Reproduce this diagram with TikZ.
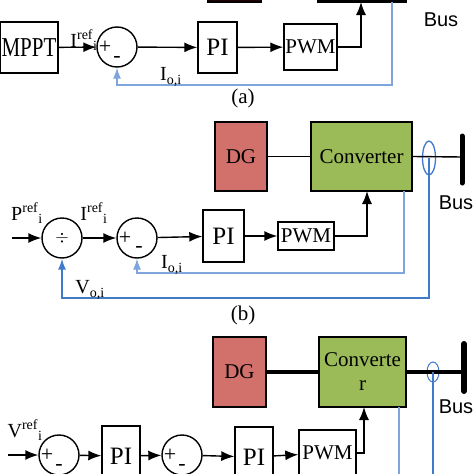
\documentclass[tikz,border=0pt]{standalone}
\usepackage{amsmath}
\usepackage{graphicx}
\usepackage{fontspec}
\setmainfont{Liberation Serif}
\newfontfamily\busfont{Liberation Sans}
\usepackage{tikz}
\usetikzlibrary{positioning, arrows.meta, shapes.geometric, calc}
\definecolor{dgred}{HTML}{D2706B}
\definecolor{convgreen}{HTML}{9BBB59}
\definecolor{fblight}{HTML}{7EA6DC}
\definecolor{fbdark}{HTML}{3F7ACB}
\newcommand{\tallbox}[1]{\scalebox{1}[1.3]{#1}}

\tikzset{
  blk/.style={draw, line width=1.4pt, fill=white, inner sep=0pt, font=\fontsize{21}{24}\selectfont},
  piblk/.style={blk, font=\fontsize{25}{28}\selectfont},
  sumnode/.style={draw, circle, line width=1.4pt, minimum size=40pt, inner sep=0pt, fill=white},
  sig/.style={line width=1.4pt, -{Latex[length=13pt,width=10pt]}},
  wire/.style={line width=1.4pt},
  fbl/.style={draw=fblight, line width=1.3pt, -{Latex[length=11pt,width=8pt]}},
  fbd/.style={draw=fbdark, line width=1.5pt, -{Latex[length=11pt,width=8pt]}},
  lbl/.style={inner sep=0pt, font=\fontsize{20}{22}\selectfont},
  sgn/.style={inner sep=0pt, font=\fontsize{22}{24}\selectfont},
  busbar/.style={line width=5pt, line cap=round},
  buslbl/.style={inner sep=0pt, font=\busfont\fontsize{20}{22}\selectfont}
}

\begin{document}
\begin{tikzpicture}[x=1pt, y=-1pt]
  \useasboundingbox (0,0) rectangle (474,474);
  \clip (0,0) rectangle (474,474);

  % (a) MPPT current loop
  \node[blk, fill=black!85!red, minimum width=53, minimum height=64] (dga) at (234.5,-30) {};
  \node[blk, fill=black, minimum width=88, minimum height=64] (conva) at (362,-30) {};
  \node[blk, minimum width=58, minimum height=51] (mppt) at (29,47.5) {\tallbox{MPPT}};
  \node[sumnode] (suma) at (117,47) {};
  \node[piblk, minimum width=39, minimum height=51] (pia) at (217.5,47.5) {PI};
  \node[blk, minimum width=53, minimum height=46] (pwma) at (310.5,47) {PWM};
  \node[sgn] at ($(suma)+(-12,0)$) {+};
  \node[sgn] at ($(suma)+(0,12)$) {-};
  \coordinate (ina) at (361,2);
  \coordinate (taba) at (392,2);
  \draw[sig] (mppt) -- (suma);
  \draw[sig] (suma) -- (pia);
  \draw[sig] (pia) -- (pwma);
  \draw[sig] (pwma.east) -| (ina);
  \draw[fbl] (taba) -- (392,85) -| (suma.south);
  \node[lbl] at (84,40) {$\text{I}^{\text{ref}}{}_{\text{i}}$};
  \node[lbl] at (171,77) {$\text{I}_{\text{o,i}}$};
  \node[buslbl] at (441,20) {Bus};
  \node[blk, draw=none, fill=none] at (243,98) {(a)};

  % (b) power loop
  \node[blk, fill=dgred, minimum width=52, minimum height=69] (dgb) at (241,156.5) {DG};
  \node[blk, fill=convgreen, minimum width=101, minimum height=69] (convb) at (361.5,156.5) {Converter};
  \node[draw=fbdark, line width=1.3pt, ellipse, minimum width=13, minimum height=34, inner sep=0pt] (ctb) at (429,158) {};
  \coordinate (busb) at (462,157);
  \draw[wire] (dgb) -- (convb);
  \draw[wire] (convb.east) -- (busb);
  \draw[busbar] (462,136) -- (462,183);
  \node[sumnode, font=\fontsize{18}{20}\selectfont] (divb) at (62,238) {$\div$};
  \node[sumnode] (sumb) at (137,238) {};
  \node[piblk, minimum width=41, minimum height=52] (pib) at (223.5,236) {PI};
  \node[blk, minimum width=56, minimum height=28] (pwmb) at (306,236) {PWM};
  \node[sgn] at ($(sumb)+(-12,0)$) {+};
  \node[sgn] at ($(sumb)+(2,11)$) {-};
  \coordinate (inb) at (12,238);
  \coordinate (gateb) at (367,191);
  \draw[sig] (inb) -- (divb);
  \draw[sig] (divb) -- (sumb);
  \draw[sig] (sumb) -- (pib);
  \draw[sig] (pib) -- (pwmb);
  \draw[sig] (pwmb.east) -| (gateb);
  \draw[fbl] (404,191) -- (404,273) -| (sumb.south);
  \draw[fbd] (ctb.center) -- (429,298) -| (divb.south);
  \node[lbl] at (27,213) {$\text{P}^{\text{ref}}{}_{\text{i}}$};
  \node[lbl] at (94,213) {$\text{I}^{\text{ref}}{}_{\text{i}}$};
  \node[lbl] at (172,265) {$\text{I}_{\text{o,i}}$};
  \node[lbl] at (90,290) {$\text{V}_{\text{o,i}}$};
  \node[buslbl] at (456,203) {Bus};
  \node[blk, draw=none, fill=none] at (243,315) {(b)};

  % (c) voltage loop
  \node[blk, fill=dgred, minimum width=53, minimum height=70] (dgc) at (239.5,372) {DG};
  \node[blk, fill=convgreen, minimum width=87, minimum height=70, align=center] (convc) at (362.5,372) {Converte\\r};
  \node[draw=fbdark, line width=1pt, ellipse, minimum width=12, minimum height=20, inner sep=0pt] (ctc) at (433,372) {};
  \coordinate (busc) at (464,372);
  \draw[line width=4pt] (dgc) -- (convc);
  \draw[line width=4pt] (convc.east) -- (busc);
  \draw[busbar, line width=6pt] (464,344) -- (464,391);
  \node[sumnode] (sum1c) at (59,455) {};
  \node[piblk, minimum width=38, minimum height=60] (pi1c) at (121,456) {PI};
  \node[sumnode] (sum2c) at (182,455) {};
  \node[piblk, minimum width=38, minimum height=60] (pi2c) at (254,457) {PI};
  \node[blk, minimum width=57, minimum height=46] (pwmc) at (327.5,453) {PWM};
  \foreach \s in {sum1c, sum2c} {
    \node[sgn] at ($(\s)+(-12,0)$) {+};
    \node[sgn] at ($(\s)+(0,12)$) {-};
  }
  \coordinate (inc) at (8,455);
  \coordinate (gatec) at (364,407);
  \draw[sig] (inc) -- (sum1c);
  \draw[sig] (sum1c) -- (pi1c);
  \draw[sig] (pi1c) -- (sum2c);
  \draw[sig] (sum2c) -- (pi2c);
  \draw[sig] (pi2c) -- (pwmc);
  \draw[sig] (pwmc.east) -| (gatec);
  \draw[sig] (59,500) -- (sum1c.south);
  \draw[sig] (182,500) -- (sum2c.south);
  \draw[draw=fblight, line width=1.3pt] (399,407) -- (399,480);
  \draw[draw=fbdark, line width=1.3pt] (ctc.center) -- (433,480);
  \node[lbl] at (25,430) {$\text{V}^{\text{ref}}{}_{\text{i}}$};
  \node[buslbl] at (456,407) {Bus};
\end{tikzpicture}
\end{document}
